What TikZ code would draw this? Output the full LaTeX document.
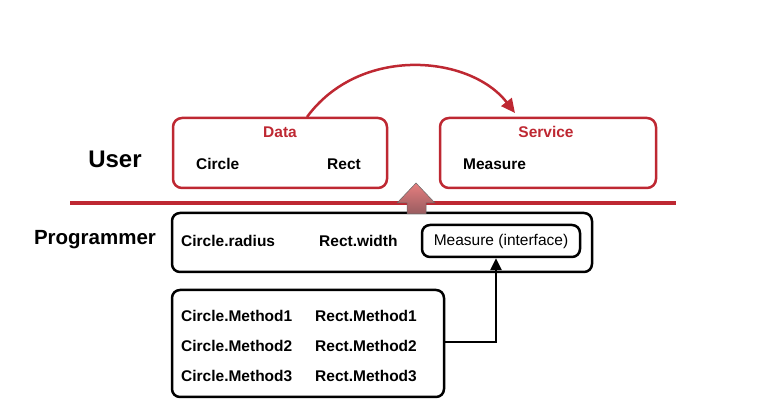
\documentclass[tikz,border=0pt]{standalone}
\usepackage{fontspec}
\setmainfont{Liberation Sans}
\usetikzlibrary{arrows.meta,shapes.arrows}
\definecolor{dred}{RGB}{190,40,50}
\begin{document}
\begin{tikzpicture}[x=1pt,y=-1pt,
  rbox/.style={draw=dred,line width=2.5pt,rounded corners=9pt},
  kbox/.style={draw=black,line width=2.5pt,rounded corners=8pt},
  lbl/.style={font=\bfseries\fontsize{15.5}{18}\selectfont,anchor=west,inner sep=0pt},
  rlbl/.style={font=\bfseries\fontsize{15.5}{18}\selectfont,text=dred}]
\useasboundingbox (0,0) rectangle (782,411);
\node[rbox,minimum width=214pt,minimum height=70pt] (data) at (280,153) {};
\node[rbox,minimum width=216pt,minimum height=70pt] (svc) at (548,153) {};
\node[rlbl] (dt) at (280,132) {Data};
\node[lbl] (c1) at (196,164) {Circle};
\node[lbl] (r1) at (327,164) {Rect};
\node[rlbl] (st) at (546,132) {Service};
\node[lbl] (m1) at (463,164) {Measure};
\node[font=\bfseries\fontsize{24}{28}\selectfont] (user) at (115,159) {User};
\node[font=\bfseries\fontsize{20.5}{24}\selectfont] (prog) at (95,240) {Programmer};
\coordinate (l1) at (70,203); \coordinate (l2) at (676,203);
\draw[dred,line width=3.5pt] (l1) -- (l2);
\node[kbox,minimum width=420pt,minimum height=59pt] (pbox) at (382,242.5) {};
\node[kbox,minimum width=158pt,minimum height=32pt,font=\fontsize{15.5}{18}\selectfont] (mi) at (501,241) {Measure (interface)};
\node[lbl] (cr) at (181,241) {Circle.radius};
\node[lbl] (rw) at (319,241) {Rect.width};
\node[kbox,minimum width=272pt,minimum height=107pt] (mbox) at (308,343.5) {};
\foreach \i/\y in {1/316,2/346,3/376}{
  \node[lbl] (cm\i) at (181,\y) {Circle.Method\i};
  \node[lbl] (rm\i) at (315,\y) {Rect.Method\i};
}
\coordinate (corner) at (496,342);
\draw[line width=2.5pt,-{Triangle[length=12pt,width=11pt]}] (mbox.east |- corner) -- (corner) -- (mi.south -| corner);
\shade[top color=red!45!white!90!black,bottom color=dred!40!gray,draw=black!60,line width=0.5pt]
 (416,183) -- (435,203) -- (426,203) -- (426,214) -- (407,214) -- (407,203) -- (397,203) -- cycle;
\draw[dred,line width=2.5pt,-{Triangle[length=14pt,width=13pt]}] (307,117) .. controls (360,45) and (470,55) .. (515,113);
\end{tikzpicture}
\end{document}
